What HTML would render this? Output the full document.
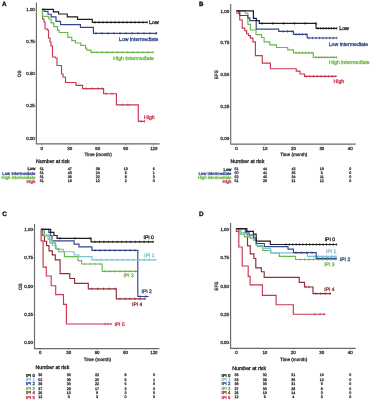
<!DOCTYPE html>
<html><head><meta charset="utf-8"><style>
html,body{margin:0;padding:0;background:#fff;width:371px;height:400px;overflow:hidden}
svg{display:block;will-change:transform;filter:blur(0.3px)}
text{font-family:"Liberation Sans", sans-serif;text-rendering:geometricPrecision}
</style></head><body>
<svg width="371" height="400" viewBox="0 0 371 400">
<rect width="371" height="400" fill="#fff"/>
<text x="2.00" y="6.20" font-size="6.2" fill="#111" stroke="#111" stroke-width="0.3" text-anchor="start" font-weight="bold" >A</text>
<path d="M36.4 2.5 V143.9 H159.7" stroke="#6a6a6a" stroke-width="1.15" fill="none" />
<path d="M35.1 138.00 H36.4" stroke="#6a6a6a" stroke-width="0.6" fill="none" />
<text x="34.80" y="139.54" font-size="4.4" fill="#333" stroke="#333" stroke-width="0.3" text-anchor="end" font-weight="normal" >0.00</text>
<path d="M35.1 105.90 H36.4" stroke="#6a6a6a" stroke-width="0.6" fill="none" />
<text x="34.80" y="107.44" font-size="4.4" fill="#333" stroke="#333" stroke-width="0.3" text-anchor="end" font-weight="normal" >0.25</text>
<path d="M35.1 73.80 H36.4" stroke="#6a6a6a" stroke-width="0.6" fill="none" />
<text x="34.80" y="75.34" font-size="4.4" fill="#333" stroke="#333" stroke-width="0.3" text-anchor="end" font-weight="normal" >0.50</text>
<path d="M35.1 41.70 H36.4" stroke="#6a6a6a" stroke-width="0.6" fill="none" />
<text x="34.80" y="43.24" font-size="4.4" fill="#333" stroke="#333" stroke-width="0.3" text-anchor="end" font-weight="normal" >0.75</text>
<path d="M35.1 9.60 H36.4" stroke="#6a6a6a" stroke-width="0.6" fill="none" />
<text x="34.80" y="11.14" font-size="4.4" fill="#333" stroke="#333" stroke-width="0.3" text-anchor="end" font-weight="normal" >1.00</text>
<path d="M41.80 143.9 V145.20000000000002" stroke="#6a6a6a" stroke-width="0.6" fill="none" />
<text x="41.80" y="149.54" font-size="4.4" fill="#333" stroke="#333" stroke-width="0.3" text-anchor="middle" font-weight="normal" >0</text>
<path d="M69.80 143.9 V145.20000000000002" stroke="#6a6a6a" stroke-width="0.6" fill="none" />
<text x="69.80" y="149.54" font-size="4.4" fill="#333" stroke="#333" stroke-width="0.3" text-anchor="middle" font-weight="normal" >30</text>
<path d="M97.80 143.9 V145.20000000000002" stroke="#6a6a6a" stroke-width="0.6" fill="none" />
<text x="97.80" y="149.54" font-size="4.4" fill="#333" stroke="#333" stroke-width="0.3" text-anchor="middle" font-weight="normal" >60</text>
<path d="M125.80 143.9 V145.20000000000002" stroke="#6a6a6a" stroke-width="0.6" fill="none" />
<text x="125.80" y="149.54" font-size="4.4" fill="#333" stroke="#333" stroke-width="0.3" text-anchor="middle" font-weight="normal" >90</text>
<path d="M153.80 143.9 V145.20000000000002" stroke="#6a6a6a" stroke-width="0.6" fill="none" />
<text x="153.80" y="149.54" font-size="4.4" fill="#333" stroke="#333" stroke-width="0.3" text-anchor="middle" font-weight="normal" >120</text>
<text x="98.10" y="156.11" font-size="4.6" fill="#333" stroke="#333" stroke-width="0.3" text-anchor="middle" font-weight="normal" >Time (month)</text>
<text x="20.00" y="73.80" font-size="4.7" fill="#333" stroke="#333" stroke-width="0.3" text-anchor="middle" font-weight="normal" transform="rotate(-90 20.0 73.8)" dy="1.5">OS</text>
<text x="35.90" y="162.62" font-size="5.2" fill="#222" stroke="#222" stroke-width="0.3" text-anchor="start" font-weight="normal" >Number at risk</text>
<text x="35.30" y="170.41" font-size="4.3" fill="#1c1c1c" stroke="#1c1c1c" stroke-width="0.3" text-anchor="end" font-weight="normal" >Low</text>
<text x="41.80" y="170.20" font-size="3.6" fill="#333" stroke="#333" stroke-width="0.3" text-anchor="middle" font-weight="normal" >51</text>
<text x="69.80" y="170.20" font-size="3.6" fill="#333" stroke="#333" stroke-width="0.3" text-anchor="middle" font-weight="normal" >47</text>
<text x="97.80" y="170.20" font-size="3.6" fill="#333" stroke="#333" stroke-width="0.3" text-anchor="middle" font-weight="normal" >38</text>
<text x="125.80" y="170.20" font-size="3.6" fill="#333" stroke="#333" stroke-width="0.3" text-anchor="middle" font-weight="normal" >13</text>
<text x="153.80" y="170.20" font-size="3.6" fill="#333" stroke="#333" stroke-width="0.3" text-anchor="middle" font-weight="normal" >6</text>
<text x="35.30" y="174.50" font-size="4.3" fill="#34468f" stroke="#34468f" stroke-width="0.3" text-anchor="end" font-weight="normal" >Low Intermediate</text>
<text x="41.80" y="174.30" font-size="3.6" fill="#333" stroke="#333" stroke-width="0.3" text-anchor="middle" font-weight="normal" >51</text>
<text x="69.80" y="174.30" font-size="3.6" fill="#333" stroke="#333" stroke-width="0.3" text-anchor="middle" font-weight="normal" >43</text>
<text x="97.80" y="174.30" font-size="3.6" fill="#333" stroke="#333" stroke-width="0.3" text-anchor="middle" font-weight="normal" >24</text>
<text x="125.80" y="174.30" font-size="3.6" fill="#333" stroke="#333" stroke-width="0.3" text-anchor="middle" font-weight="normal" >6</text>
<text x="153.80" y="174.30" font-size="3.6" fill="#333" stroke="#333" stroke-width="0.3" text-anchor="middle" font-weight="normal" >1</text>
<text x="35.30" y="178.50" font-size="4.3" fill="#6cb84a" stroke="#6cb84a" stroke-width="0.3" text-anchor="end" font-weight="normal" >High intermediate</text>
<text x="41.80" y="178.30" font-size="3.6" fill="#333" stroke="#333" stroke-width="0.3" text-anchor="middle" font-weight="normal" >51</text>
<text x="69.80" y="178.30" font-size="3.6" fill="#333" stroke="#333" stroke-width="0.3" text-anchor="middle" font-weight="normal" >36</text>
<text x="97.80" y="178.30" font-size="3.6" fill="#333" stroke="#333" stroke-width="0.3" text-anchor="middle" font-weight="normal" >22</text>
<text x="125.80" y="178.30" font-size="3.6" fill="#333" stroke="#333" stroke-width="0.3" text-anchor="middle" font-weight="normal" >8</text>
<text x="153.80" y="178.30" font-size="3.6" fill="#333" stroke="#333" stroke-width="0.3" text-anchor="middle" font-weight="normal" >3</text>
<text x="35.30" y="182.50" font-size="4.3" fill="#c8374f" stroke="#c8374f" stroke-width="0.3" text-anchor="end" font-weight="normal" >High</text>
<text x="41.80" y="182.30" font-size="3.6" fill="#333" stroke="#333" stroke-width="0.3" text-anchor="middle" font-weight="normal" >51</text>
<text x="69.80" y="182.30" font-size="3.6" fill="#333" stroke="#333" stroke-width="0.3" text-anchor="middle" font-weight="normal" >19</text>
<text x="97.80" y="182.30" font-size="3.6" fill="#333" stroke="#333" stroke-width="0.3" text-anchor="middle" font-weight="normal" >12</text>
<text x="125.80" y="182.30" font-size="3.6" fill="#333" stroke="#333" stroke-width="0.3" text-anchor="middle" font-weight="normal" >2</text>
<text x="153.80" y="182.30" font-size="3.6" fill="#333" stroke="#333" stroke-width="0.3" text-anchor="middle" font-weight="normal" >0</text>
<path d="M41.9 9.4 H42.5 V19 H44 V22 H45 V29 H47.5 V30 H48.5 V38 H50 V42 H51 V46 H52.5 V57 H55.5 V58 H57 V65.5 H61.5 V74 H63 V77 H65.5 V82.5 H76 V85.3 H82.6 V88.6 H103.6 V93.7 H116.4 V104.8 H138.3 V121.3 H144.8" stroke="#c8374f" stroke-width="1.15" fill="none" stroke-linejoin="miter" stroke-linecap="butt"/>
<path d="M41.9 9.4 H42.5 V16.3 H48.9 V19 H51.1 V22.8 H53.8 V26.6 H57.6 V30.3 H59.2 V32.5 H67.8 V37.3 H71.8 V40.6 H75.5 V43 H80.8 V45.4 H85.5 V48.1 H86.8 V50.1 H90.9 V52.3 H153.3" stroke="#6cb84a" stroke-width="1.15" fill="none" stroke-linejoin="miter" stroke-linecap="butt"/>
<path d="M41.9 9.4 H44.2 V11.4 H48 V14.2 H51.2 V16.8 H56 V21.4 H60.5 V24.6 H80.4 V27.4 H93.4 V33.4 H156.7" stroke="#34468f" stroke-width="1.15" fill="none" stroke-linejoin="miter" stroke-linecap="butt"/>
<path d="M41.9 9.4 H53.3 V11.8 H58.6 V14 H67.3 V16.9 H77.6 V19.4 H92.3 V22.4 H147.4" stroke="#1c1c1c" stroke-width="1.15" fill="none" stroke-linejoin="miter" stroke-linecap="butt"/>
<path d="M95.00 21.15 V23.45 M99.00 21.15 V23.45 M103.00 21.15 V23.45 M107.00 21.15 V23.45 M111.00 21.15 V23.45 M115.00 21.15 V23.45 M119.00 21.15 V23.45 M123.00 21.15 V23.45 M127.00 21.15 V23.45 M131.00 21.15 V23.45 M135.00 21.15 V23.45 M139.00 21.15 V23.45 M143.00 21.15 V23.45 M147.00 21.15 V23.45" stroke="#1c1c1c" stroke-width="0.85" fill="none" />
<path d="M96.00 32.15 V34.45 M102.00 32.15 V34.45 M108.00 32.15 V34.45 M114.00 32.15 V34.45 M120.00 32.15 V34.45 M126.00 32.15 V34.45 M132.00 32.15 V34.45 M138.00 32.15 V34.45 M144.00 32.15 V34.45 M150.00 32.15 V34.45 M156.00 32.15 V34.45 M156.70 32.15 V34.45" stroke="#34468f" stroke-width="0.85" fill="none" />
<path d="M92.00 51.15 V53.45 M97.08 51.15 V53.45 M102.17 51.15 V53.45 M107.25 51.15 V53.45 M112.33 51.15 V53.45 M117.42 51.15 V53.45 M122.50 51.15 V53.45 M127.58 51.15 V53.45 M132.67 51.15 V53.45 M137.75 51.15 V53.45 M142.83 51.15 V53.45 M147.92 51.15 V53.45 M153.00 51.15 V53.45" stroke="#6cb84a" stroke-width="0.85" fill="none" />
<path d="M86.00 87.45 V89.75 M92.00 87.45 V89.75 M98.00 87.45 V89.75 M102.00 87.45 V89.75" stroke="#c8374f" stroke-width="0.85" fill="none" />
<path d="M106.00 92.55 V94.85 M112.00 92.55 V94.85" stroke="#c8374f" stroke-width="0.85" fill="none" />
<path d="M122.00 103.65 V105.95 M128.00 103.65 V105.95" stroke="#c8374f" stroke-width="0.85" fill="none" />
<path d="M141.00 120.15 V122.45 M144.50 120.15 V122.45" stroke="#c8374f" stroke-width="0.85" fill="none" />
<text x="149.00" y="23.86" font-size="5.3" fill="#1c1c1c" stroke="#1c1c1c" stroke-width="0.3" text-anchor="start" font-weight="normal" >Low</text>
<text x="119.00" y="40.82" font-size="5.2" fill="#34468f" stroke="#34468f" stroke-width="0.3" text-anchor="start" font-weight="normal" >Low intermediate</text>
<text x="113.30" y="59.92" font-size="5.2" fill="#6cb84a" stroke="#6cb84a" stroke-width="0.3" text-anchor="start" font-weight="normal" >High intermediate</text>
<text x="144.00" y="119.02" font-size="5.2" fill="#c8374f" stroke="#c8374f" stroke-width="0.3" text-anchor="start" font-weight="normal" >High</text>
<text x="199.00" y="6.20" font-size="6.2" fill="#111" stroke="#111" stroke-width="0.3" text-anchor="start" font-weight="bold" >B</text>
<path d="M230.7 4.0 V144.1 H355.7" stroke="#6a6a6a" stroke-width="1.15" fill="none" />
<path d="M229.39999999999998 138.30 H230.7" stroke="#6a6a6a" stroke-width="0.6" fill="none" />
<text x="229.10" y="139.84" font-size="4.4" fill="#333" stroke="#333" stroke-width="0.3" text-anchor="end" font-weight="normal" >0.00</text>
<path d="M229.39999999999998 106.50 H230.7" stroke="#6a6a6a" stroke-width="0.6" fill="none" />
<text x="229.10" y="108.04" font-size="4.4" fill="#333" stroke="#333" stroke-width="0.3" text-anchor="end" font-weight="normal" >0.25</text>
<path d="M229.39999999999998 74.70 H230.7" stroke="#6a6a6a" stroke-width="0.6" fill="none" />
<text x="229.10" y="76.24" font-size="4.4" fill="#333" stroke="#333" stroke-width="0.3" text-anchor="end" font-weight="normal" >0.50</text>
<path d="M229.39999999999998 42.90 H230.7" stroke="#6a6a6a" stroke-width="0.6" fill="none" />
<text x="229.10" y="44.44" font-size="4.4" fill="#333" stroke="#333" stroke-width="0.3" text-anchor="end" font-weight="normal" >0.75</text>
<path d="M229.39999999999998 11.10 H230.7" stroke="#6a6a6a" stroke-width="0.6" fill="none" />
<text x="229.10" y="12.64" font-size="4.4" fill="#333" stroke="#333" stroke-width="0.3" text-anchor="end" font-weight="normal" >1.00</text>
<path d="M236.50 144.1 V145.4" stroke="#6a6a6a" stroke-width="0.6" fill="none" />
<text x="236.50" y="149.74" font-size="4.4" fill="#333" stroke="#333" stroke-width="0.3" text-anchor="middle" font-weight="normal" >0</text>
<path d="M264.95 144.1 V145.4" stroke="#6a6a6a" stroke-width="0.6" fill="none" />
<text x="264.95" y="149.74" font-size="4.4" fill="#333" stroke="#333" stroke-width="0.3" text-anchor="middle" font-weight="normal" >10</text>
<path d="M293.40 144.1 V145.4" stroke="#6a6a6a" stroke-width="0.6" fill="none" />
<text x="293.40" y="149.74" font-size="4.4" fill="#333" stroke="#333" stroke-width="0.3" text-anchor="middle" font-weight="normal" >20</text>
<path d="M321.85 144.1 V145.4" stroke="#6a6a6a" stroke-width="0.6" fill="none" />
<text x="321.85" y="149.74" font-size="4.4" fill="#333" stroke="#333" stroke-width="0.3" text-anchor="middle" font-weight="normal" >30</text>
<path d="M350.30 144.1 V145.4" stroke="#6a6a6a" stroke-width="0.6" fill="none" />
<text x="350.30" y="149.74" font-size="4.4" fill="#333" stroke="#333" stroke-width="0.3" text-anchor="middle" font-weight="normal" >40</text>
<text x="293.70" y="155.81" font-size="4.6" fill="#333" stroke="#333" stroke-width="0.3" text-anchor="middle" font-weight="normal" >Time (month)</text>
<text x="216.70" y="74.70" font-size="4.7" fill="#333" stroke="#333" stroke-width="0.3" text-anchor="middle" font-weight="normal" transform="rotate(-90 216.7 74.7)" dy="1.5">EFS</text>
<text x="230.50" y="162.72" font-size="5.2" fill="#222" stroke="#222" stroke-width="0.3" text-anchor="start" font-weight="normal" >Number at risk</text>
<text x="231.40" y="170.50" font-size="4.3" fill="#1c1c1c" stroke="#1c1c1c" stroke-width="0.3" text-anchor="end" font-weight="normal" >Low</text>
<text x="236.50" y="170.30" font-size="3.6" fill="#333" stroke="#333" stroke-width="0.3" text-anchor="middle" font-weight="normal" >51</text>
<text x="264.95" y="170.30" font-size="3.6" fill="#333" stroke="#333" stroke-width="0.3" text-anchor="middle" font-weight="normal" >44</text>
<text x="293.40" y="170.30" font-size="3.6" fill="#333" stroke="#333" stroke-width="0.3" text-anchor="middle" font-weight="normal" >42</text>
<text x="321.85" y="170.30" font-size="3.6" fill="#333" stroke="#333" stroke-width="0.3" text-anchor="middle" font-weight="normal" >19</text>
<text x="350.30" y="170.30" font-size="3.6" fill="#333" stroke="#333" stroke-width="0.3" text-anchor="middle" font-weight="normal" >0</text>
<text x="231.40" y="174.50" font-size="4.3" fill="#34468f" stroke="#34468f" stroke-width="0.3" text-anchor="end" font-weight="normal" >Low Intermediate</text>
<text x="236.50" y="174.30" font-size="3.6" fill="#333" stroke="#333" stroke-width="0.3" text-anchor="middle" font-weight="normal" >50</text>
<text x="264.95" y="174.30" font-size="3.6" fill="#333" stroke="#333" stroke-width="0.3" text-anchor="middle" font-weight="normal" >41</text>
<text x="293.40" y="174.30" font-size="3.6" fill="#333" stroke="#333" stroke-width="0.3" text-anchor="middle" font-weight="normal" >35</text>
<text x="321.85" y="174.30" font-size="3.6" fill="#333" stroke="#333" stroke-width="0.3" text-anchor="middle" font-weight="normal" >6</text>
<text x="350.30" y="174.30" font-size="3.6" fill="#333" stroke="#333" stroke-width="0.3" text-anchor="middle" font-weight="normal" >0</text>
<text x="231.40" y="178.60" font-size="4.3" fill="#6cb84a" stroke="#6cb84a" stroke-width="0.3" text-anchor="end" font-weight="normal" >High intermediate</text>
<text x="236.50" y="178.40" font-size="3.6" fill="#333" stroke="#333" stroke-width="0.3" text-anchor="middle" font-weight="normal" >52</text>
<text x="264.95" y="178.40" font-size="3.6" fill="#333" stroke="#333" stroke-width="0.3" text-anchor="middle" font-weight="normal" >45</text>
<text x="293.40" y="178.40" font-size="3.6" fill="#333" stroke="#333" stroke-width="0.3" text-anchor="middle" font-weight="normal" >34</text>
<text x="321.85" y="178.40" font-size="3.6" fill="#333" stroke="#333" stroke-width="0.3" text-anchor="middle" font-weight="normal" >11</text>
<text x="350.30" y="178.40" font-size="3.6" fill="#333" stroke="#333" stroke-width="0.3" text-anchor="middle" font-weight="normal" >0</text>
<text x="231.40" y="182.60" font-size="4.3" fill="#c8374f" stroke="#c8374f" stroke-width="0.3" text-anchor="end" font-weight="normal" >High</text>
<text x="236.50" y="182.40" font-size="3.6" fill="#333" stroke="#333" stroke-width="0.3" text-anchor="middle" font-weight="normal" >51</text>
<text x="264.95" y="182.40" font-size="3.6" fill="#333" stroke="#333" stroke-width="0.3" text-anchor="middle" font-weight="normal" >29</text>
<text x="293.40" y="182.40" font-size="3.6" fill="#333" stroke="#333" stroke-width="0.3" text-anchor="middle" font-weight="normal" >21</text>
<text x="321.85" y="182.40" font-size="3.6" fill="#333" stroke="#333" stroke-width="0.3" text-anchor="middle" font-weight="normal" >12</text>
<text x="350.30" y="182.40" font-size="3.6" fill="#333" stroke="#333" stroke-width="0.3" text-anchor="middle" font-weight="normal" >0</text>
<path d="M236.4 10.9 H238.8 V13.5 H239.75 V20 H242.25 V28.1 H244.75 V30.6 H246.6 V33.75 H248.5 V35.6 H250.4 V38.1 H252.9 V41.9 H255.4 V55.6 H262.25 V63.1 H270.4 V68.7 H296.2 V71.1 H300 V74 H304.5 V76.3 H336.2" stroke="#c8374f" stroke-width="1.15" fill="none" stroke-linejoin="miter" stroke-linecap="butt"/>
<path d="M236.4 10.9 H245.3 V13.2 H247.9 V24.4 H250.4 V30 H256 V34.6 H261.6 V37.5 H264.1 V41.9 H269.8 V44.8 H276.4 V47.5 H287.7 V49.8 H293.4 V52.8 H313.3 V57.3 H336.8" stroke="#6cb84a" stroke-width="1.15" fill="none" stroke-linejoin="miter" stroke-linecap="butt"/>
<path d="M236.4 10.9 H239.7 V15.5 H247.8 V17.9 H249.8 V20.6 H256.2 V29.1 H278.7 V31.4 H293.5 V34.4 H307.2 V38.0 H336.8" stroke="#34468f" stroke-width="1.15" fill="none" stroke-linejoin="miter" stroke-linecap="butt"/>
<path d="M236.4 10.9 H253.4 V18.3 H256.3 V20.6 H259.3 V23.4 H316.1 V28.4 H336.8" stroke="#1c1c1c" stroke-width="1.15" fill="none" stroke-linejoin="miter" stroke-linecap="butt"/>
<path d="M236.6 11.1 h2 v2.2 h-2 z" stroke="#c8374f" stroke-width="0.8" fill="none" />
<path d="M262.00 22.25 V24.55 M272.80 22.25 V24.55 M283.60 22.25 V24.55 M294.40 22.25 V24.55 M305.20 22.25 V24.55 M316.00 22.25 V24.55" stroke="#1c1c1c" stroke-width="0.85" fill="none" />
<path d="M318.00 27.25 V29.55 M320.69 27.25 V29.55 M323.37 27.25 V29.55 M326.06 27.25 V29.55 M328.74 27.25 V29.55 M331.43 27.25 V29.55 M334.11 27.25 V29.55 M336.80 27.25 V29.55" stroke="#1c1c1c" stroke-width="0.85" fill="none" />
<path d="M283.00 30.25 V32.55 M287.50 30.25 V32.55 M292.00 30.25 V32.55" stroke="#34468f" stroke-width="0.85" fill="none" />
<path d="M296.00 33.25 V35.55 M299.33 33.25 V35.55 M302.67 33.25 V35.55 M306.00 33.25 V35.55" stroke="#34468f" stroke-width="0.85" fill="none" />
<path d="M309.00 36.85 V39.15 M312.48 36.85 V39.15 M315.95 36.85 V39.15 M319.43 36.85 V39.15 M322.90 36.85 V39.15 M326.38 36.85 V39.15 M329.85 36.85 V39.15 M333.32 36.85 V39.15 M336.80 36.85 V39.15" stroke="#34468f" stroke-width="0.85" fill="none" />
<path d="M296.00 51.65 V53.95 M299.20 51.65 V53.95 M302.40 51.65 V53.95 M305.60 51.65 V53.95 M308.80 51.65 V53.95 M312.00 51.65 V53.95" stroke="#6cb84a" stroke-width="0.85" fill="none" />
<path d="M316.00 56.15 V58.45 M318.97 56.15 V58.45 M321.94 56.15 V58.45 M324.91 56.15 V58.45 M327.89 56.15 V58.45 M330.86 56.15 V58.45 M333.83 56.15 V58.45 M336.80 56.15 V58.45" stroke="#6cb84a" stroke-width="0.85" fill="none" />
<path d="M306.00 75.15 V77.45 M309.75 75.15 V77.45 M313.50 75.15 V77.45 M317.25 75.15 V77.45 M321.00 75.15 V77.45 M324.75 75.15 V77.45 M328.50 75.15 V77.45 M332.25 75.15 V77.45 M336.00 75.15 V77.45" stroke="#c8374f" stroke-width="0.85" fill="none" />
<text x="339.20" y="29.75" font-size="5.3" fill="#1c1c1c" stroke="#1c1c1c" stroke-width="0.3" text-anchor="start" font-weight="normal" >Low</text>
<text x="328.70" y="46.32" font-size="5.2" fill="#34468f" stroke="#34468f" stroke-width="0.3" text-anchor="start" font-weight="normal" >Low intermediate</text>
<text x="329.10" y="64.32" font-size="5.2" fill="#6cb84a" stroke="#6cb84a" stroke-width="0.3" text-anchor="start" font-weight="normal" >High intermediate</text>
<text x="333.50" y="83.22" font-size="5.2" fill="#c8374f" stroke="#c8374f" stroke-width="0.3" text-anchor="start" font-weight="normal" >High</text>
<text x="2.30" y="216.10" font-size="6.4" fill="#111" stroke="#111" stroke-width="0.3" text-anchor="start" font-weight="bold" >C</text>
<path d="M34.5 224.0 V348.6 H159.3" stroke="#6a6a6a" stroke-width="1.15" fill="none" />
<path d="M33.2 342.70 H34.5" stroke="#6a6a6a" stroke-width="0.6" fill="none" />
<text x="32.90" y="344.24" font-size="4.4" fill="#333" stroke="#333" stroke-width="0.3" text-anchor="end" font-weight="normal" >0.00</text>
<path d="M33.2 314.40 H34.5" stroke="#6a6a6a" stroke-width="0.6" fill="none" />
<text x="32.90" y="315.94" font-size="4.4" fill="#333" stroke="#333" stroke-width="0.3" text-anchor="end" font-weight="normal" >0.25</text>
<path d="M33.2 286.10 H34.5" stroke="#6a6a6a" stroke-width="0.6" fill="none" />
<text x="32.90" y="287.64" font-size="4.4" fill="#333" stroke="#333" stroke-width="0.3" text-anchor="end" font-weight="normal" >0.50</text>
<path d="M33.2 257.80 H34.5" stroke="#6a6a6a" stroke-width="0.6" fill="none" />
<text x="32.90" y="259.34" font-size="4.4" fill="#333" stroke="#333" stroke-width="0.3" text-anchor="end" font-weight="normal" >0.75</text>
<path d="M33.2 229.50 H34.5" stroke="#6a6a6a" stroke-width="0.6" fill="none" />
<text x="32.90" y="231.04" font-size="4.4" fill="#333" stroke="#333" stroke-width="0.3" text-anchor="end" font-weight="normal" >1.00</text>
<path d="M40.30 348.6 V349.90000000000003" stroke="#6a6a6a" stroke-width="0.6" fill="none" />
<text x="40.30" y="354.24" font-size="4.4" fill="#333" stroke="#333" stroke-width="0.3" text-anchor="middle" font-weight="normal" >0</text>
<path d="M68.70 348.6 V349.90000000000003" stroke="#6a6a6a" stroke-width="0.6" fill="none" />
<text x="68.70" y="354.24" font-size="4.4" fill="#333" stroke="#333" stroke-width="0.3" text-anchor="middle" font-weight="normal" >30</text>
<path d="M97.10 348.6 V349.90000000000003" stroke="#6a6a6a" stroke-width="0.6" fill="none" />
<text x="97.10" y="354.24" font-size="4.4" fill="#333" stroke="#333" stroke-width="0.3" text-anchor="middle" font-weight="normal" >60</text>
<path d="M125.50 348.6 V349.90000000000003" stroke="#6a6a6a" stroke-width="0.6" fill="none" />
<text x="125.50" y="354.24" font-size="4.4" fill="#333" stroke="#333" stroke-width="0.3" text-anchor="middle" font-weight="normal" >90</text>
<path d="M153.90 348.6 V349.90000000000003" stroke="#6a6a6a" stroke-width="0.6" fill="none" />
<text x="153.90" y="354.24" font-size="4.4" fill="#333" stroke="#333" stroke-width="0.3" text-anchor="middle" font-weight="normal" >120</text>
<text x="97.40" y="360.61" font-size="4.6" fill="#333" stroke="#333" stroke-width="0.3" text-anchor="middle" font-weight="normal" >Time (month)</text>
<text x="21.00" y="286.70" font-size="4.7" fill="#333" stroke="#333" stroke-width="0.3" text-anchor="middle" font-weight="normal" transform="rotate(-90 21.0 286.70000000000005)" dy="1.5">OS</text>
<text x="35.50" y="369.12" font-size="5.2" fill="#222" stroke="#222" stroke-width="0.3" text-anchor="start" font-weight="normal" >Number at risk</text>
<text x="34.80" y="376.61" font-size="4.3" fill="#1c1c1c" stroke="#1c1c1c" stroke-width="0.3" text-anchor="end" font-weight="normal" >IPI 0</text>
<text x="40.30" y="376.40" font-size="3.6" fill="#333" stroke="#333" stroke-width="0.3" text-anchor="middle" font-weight="normal" >36</text>
<text x="68.70" y="376.40" font-size="3.6" fill="#333" stroke="#333" stroke-width="0.3" text-anchor="middle" font-weight="normal" >33</text>
<text x="97.10" y="376.40" font-size="3.6" fill="#333" stroke="#333" stroke-width="0.3" text-anchor="middle" font-weight="normal" >22</text>
<text x="125.50" y="376.40" font-size="3.6" fill="#333" stroke="#333" stroke-width="0.3" text-anchor="middle" font-weight="normal" >8</text>
<text x="153.90" y="376.40" font-size="3.6" fill="#333" stroke="#333" stroke-width="0.3" text-anchor="middle" font-weight="normal" >0</text>
<text x="34.80" y="381.00" font-size="4.3" fill="#7cc3d6" stroke="#7cc3d6" stroke-width="0.3" text-anchor="end" font-weight="normal" >IPI 1</text>
<text x="40.30" y="380.80" font-size="3.6" fill="#333" stroke="#333" stroke-width="0.3" text-anchor="middle" font-weight="normal" >52</text>
<text x="68.70" y="380.80" font-size="3.6" fill="#333" stroke="#333" stroke-width="0.3" text-anchor="middle" font-weight="normal" >39</text>
<text x="97.10" y="380.80" font-size="3.6" fill="#333" stroke="#333" stroke-width="0.3" text-anchor="middle" font-weight="normal" >20</text>
<text x="125.50" y="380.80" font-size="3.6" fill="#333" stroke="#333" stroke-width="0.3" text-anchor="middle" font-weight="normal" >6</text>
<text x="153.90" y="380.80" font-size="3.6" fill="#333" stroke="#333" stroke-width="0.3" text-anchor="middle" font-weight="normal" >1</text>
<text x="34.80" y="385.40" font-size="4.3" fill="#34468f" stroke="#34468f" stroke-width="0.3" text-anchor="end" font-weight="normal" >IPI 2</text>
<text x="40.30" y="385.20" font-size="3.6" fill="#333" stroke="#333" stroke-width="0.3" text-anchor="middle" font-weight="normal" >38</text>
<text x="68.70" y="385.20" font-size="3.6" fill="#333" stroke="#333" stroke-width="0.3" text-anchor="middle" font-weight="normal" >33</text>
<text x="97.10" y="385.20" font-size="3.6" fill="#333" stroke="#333" stroke-width="0.3" text-anchor="middle" font-weight="normal" >22</text>
<text x="125.50" y="385.20" font-size="3.6" fill="#333" stroke="#333" stroke-width="0.3" text-anchor="middle" font-weight="normal" >5</text>
<text x="153.90" y="385.20" font-size="3.6" fill="#333" stroke="#333" stroke-width="0.3" text-anchor="middle" font-weight="normal" >0</text>
<text x="34.80" y="389.70" font-size="4.3" fill="#6cb84a" stroke="#6cb84a" stroke-width="0.3" text-anchor="end" font-weight="normal" >IPI 3</text>
<text x="40.30" y="389.50" font-size="3.6" fill="#333" stroke="#333" stroke-width="0.3" text-anchor="middle" font-weight="normal" >37</text>
<text x="68.70" y="389.50" font-size="3.6" fill="#333" stroke="#333" stroke-width="0.3" text-anchor="middle" font-weight="normal" >28</text>
<text x="97.10" y="389.50" font-size="3.6" fill="#333" stroke="#333" stroke-width="0.3" text-anchor="middle" font-weight="normal" >17</text>
<text x="125.50" y="389.50" font-size="3.6" fill="#333" stroke="#333" stroke-width="0.3" text-anchor="middle" font-weight="normal" >3</text>
<text x="153.90" y="389.50" font-size="3.6" fill="#333" stroke="#333" stroke-width="0.3" text-anchor="middle" font-weight="normal" >0</text>
<text x="34.80" y="394.11" font-size="4.3" fill="#8e2e36" stroke="#8e2e36" stroke-width="0.3" text-anchor="end" font-weight="normal" >IPI 4</text>
<text x="40.30" y="393.90" font-size="3.6" fill="#333" stroke="#333" stroke-width="0.3" text-anchor="middle" font-weight="normal" >26</text>
<text x="68.70" y="393.90" font-size="3.6" fill="#333" stroke="#333" stroke-width="0.3" text-anchor="middle" font-weight="normal" >15</text>
<text x="97.10" y="393.90" font-size="3.6" fill="#333" stroke="#333" stroke-width="0.3" text-anchor="middle" font-weight="normal" >9</text>
<text x="125.50" y="393.90" font-size="3.6" fill="#333" stroke="#333" stroke-width="0.3" text-anchor="middle" font-weight="normal" >3</text>
<text x="153.90" y="393.90" font-size="3.6" fill="#333" stroke="#333" stroke-width="0.3" text-anchor="middle" font-weight="normal" >0</text>
<text x="34.80" y="398.50" font-size="4.3" fill="#c8374f" stroke="#c8374f" stroke-width="0.3" text-anchor="end" font-weight="normal" >IPI 5</text>
<text x="40.30" y="398.30" font-size="3.6" fill="#333" stroke="#333" stroke-width="0.3" text-anchor="middle" font-weight="normal" >12</text>
<text x="68.70" y="398.30" font-size="3.6" fill="#333" stroke="#333" stroke-width="0.3" text-anchor="middle" font-weight="normal" >3</text>
<text x="97.10" y="398.30" font-size="3.6" fill="#333" stroke="#333" stroke-width="0.3" text-anchor="middle" font-weight="normal" >3</text>
<text x="125.50" y="398.30" font-size="3.6" fill="#333" stroke="#333" stroke-width="0.3" text-anchor="middle" font-weight="normal" >0</text>
<text x="153.90" y="398.30" font-size="3.6" fill="#333" stroke="#333" stroke-width="0.3" text-anchor="middle" font-weight="normal" >0</text>
<path d="M41.1 229.3 V240.9 H43.1 V267.1 H46.3 V276 H51.2 V285.7 H55.7 V294.6 H63.5 V304.3 H66.4 V324 H111.6" stroke="#c8374f" stroke-width="1.15" fill="none" stroke-linejoin="miter" stroke-linecap="butt"/>
<path d="M41.1 229.3 H42.4 V235.5 H44.5 V241.2 H46.6 V245.6 H49 V250.9 H52.3 V254.9 H55.3 V259.8 H60.1 V273.6 H69.8 V278.5 H74.6 V283.3 H88.3 V288.8 H116.3 V298.8 H145.3" stroke="#8e2e36" stroke-width="1.15" fill="none" stroke-linejoin="miter" stroke-linecap="butt"/>
<path d="M41.1 229.3 H44.4 V236 H49.9 V242.8 H55.5 V248.5 H58.8 V251.7 H64.4 V256.6 H78 V260.6 H81.6 V264 H102.2 V271.3 H137.8" stroke="#6cb84a" stroke-width="1.15" fill="none" stroke-linejoin="miter" stroke-linecap="butt"/>
<path d="M41.1 229.3 H48.8 V232.3 H50.3 V235.5 H52 V240.8 H74.1 V244.1 H79 V246.8 H91.9 V250.4 H137.8 V296.5 H148.6" stroke="#34468f" stroke-width="1.15" fill="none" stroke-linejoin="miter" stroke-linecap="butt"/>
<path d="M41.1 229.3 H43.1 V234.7 H48.2 V239.6 H52.3 V245.2 H56.3 V249.3 H63.6 V251.7 H74.1 V255 H79 V256.6 H92 V259.8 H156.2" stroke="#7cc3d6" stroke-width="1.15" fill="none" stroke-linejoin="miter" stroke-linecap="butt"/>
<path d="M41.1 229.3 H50.7 V232.3 H53.9 V235.5 H57.1 V238.3 H91.1 V241.9 H153.6" stroke="#1c1c1c" stroke-width="1.15" fill="none" stroke-linejoin="miter" stroke-linecap="butt"/>
<path d="M95.00 240.75 V243.05 M99.46 240.75 V243.05 M103.92 240.75 V243.05 M108.38 240.75 V243.05 M112.85 240.75 V243.05 M117.31 240.75 V243.05 M121.77 240.75 V243.05 M126.23 240.75 V243.05 M130.69 240.75 V243.05 M135.15 240.75 V243.05 M139.62 240.75 V243.05 M144.08 240.75 V243.05 M148.54 240.75 V243.05 M153.00 240.75 V243.05" stroke="#1c1c1c" stroke-width="0.85" fill="none" />
<path d="M60.00 237.15 V239.45 M75.00 237.15 V239.45 M90.00 237.15 V239.45" stroke="#1c1c1c" stroke-width="0.85" fill="none" />
<path d="M95.00 249.25 V251.55 M100.00 249.25 V251.55 M105.00 249.25 V251.55 M110.00 249.25 V251.55 M115.00 249.25 V251.55 M120.00 249.25 V251.55 M125.00 249.25 V251.55 M130.00 249.25 V251.55 M135.00 249.25 V251.55" stroke="#34468f" stroke-width="0.85" fill="none" />
<path d="M140.00 295.35 V297.65 M146.00 295.35 V297.65" stroke="#34468f" stroke-width="0.85" fill="none" />
<path d="M96.00 258.65 V260.95 M101.36 258.65 V260.95 M106.73 258.65 V260.95 M112.09 258.65 V260.95 M117.45 258.65 V260.95 M122.82 258.65 V260.95 M128.18 258.65 V260.95 M133.55 258.65 V260.95 M138.91 258.65 V260.95 M144.27 258.65 V260.95 M149.64 258.65 V260.95 M155.00 258.65 V260.95" stroke="#7cc3d6" stroke-width="0.85" fill="none" />
<path d="M85.00 262.85 V265.15 M90.00 262.85 V265.15 M95.00 262.85 V265.15 M100.00 262.85 V265.15" stroke="#6cb84a" stroke-width="0.85" fill="none" />
<path d="M105.00 270.15 V272.45 M110.00 270.15 V272.45 M115.00 270.15 V272.45 M120.00 270.15 V272.45 M125.00 270.15 V272.45 M130.00 270.15 V272.45 M135.00 270.15 V272.45" stroke="#6cb84a" stroke-width="0.85" fill="none" />
<path d="M92.00 287.65 V289.95 M97.75 287.65 V289.95 M103.50 287.65 V289.95 M109.25 287.65 V289.95 M115.00 287.65 V289.95" stroke="#8e2e36" stroke-width="0.85" fill="none" />
<path d="M120.00 297.65 V299.95 M125.00 297.65 V299.95 M130.00 297.65 V299.95 M135.00 297.65 V299.95 M140.00 297.65 V299.95 M145.00 297.65 V299.95" stroke="#8e2e36" stroke-width="0.85" fill="none" />
<path d="M105.00 322.85 V325.15 M108.00 322.85 V325.15 M111.00 322.85 V325.15" stroke="#c8374f" stroke-width="0.85" fill="none" />
<text x="144.30" y="257.25" font-size="5.0" fill="#7cc3d6" stroke="#7cc3d6" stroke-width="0.3" text-anchor="start" font-weight="normal" >IPI 1</text>
<text x="141.50" y="293.45" font-size="5.0" fill="#34468f" stroke="#34468f" stroke-width="0.3" text-anchor="start" font-weight="normal" >IPI 2</text>
<text x="123.40" y="277.35" font-size="5.0" fill="#6cb84a" stroke="#6cb84a" stroke-width="0.3" text-anchor="start" font-weight="normal" >IPI 3</text>
<text x="132.00" y="305.95" font-size="5.0" fill="#8e2e36" stroke="#8e2e36" stroke-width="0.3" text-anchor="start" font-weight="normal" >IPI 4</text>
<text x="114.40" y="325.75" font-size="5.0" fill="#c8374f" stroke="#c8374f" stroke-width="0.3" text-anchor="start" font-weight="normal" >IPI 5</text>
<text x="143.50" y="238.55" font-size="5.0" fill="#1c1c1c" stroke="#1c1c1c" stroke-width="0.3" text-anchor="start" font-weight="normal" >IPI 0</text>
<text x="199.00" y="216.10" font-size="6.4" fill="#111" stroke="#111" stroke-width="0.3" text-anchor="start" font-weight="bold" >D</text>
<path d="M230.6 223.0 V348.4 H355.7" stroke="#6a6a6a" stroke-width="1.15" fill="none" />
<path d="M229.29999999999998 342.90 H230.6" stroke="#6a6a6a" stroke-width="0.6" fill="none" />
<text x="229.00" y="344.44" font-size="4.4" fill="#333" stroke="#333" stroke-width="0.3" text-anchor="end" font-weight="normal" >0.00</text>
<path d="M229.29999999999998 314.47 H230.6" stroke="#6a6a6a" stroke-width="0.6" fill="none" />
<text x="229.00" y="316.01" font-size="4.4" fill="#333" stroke="#333" stroke-width="0.3" text-anchor="end" font-weight="normal" >0.25</text>
<path d="M229.29999999999998 286.05 H230.6" stroke="#6a6a6a" stroke-width="0.6" fill="none" />
<text x="229.00" y="287.59" font-size="4.4" fill="#333" stroke="#333" stroke-width="0.3" text-anchor="end" font-weight="normal" >0.50</text>
<path d="M229.29999999999998 257.62 H230.6" stroke="#6a6a6a" stroke-width="0.6" fill="none" />
<text x="229.00" y="259.17" font-size="4.4" fill="#333" stroke="#333" stroke-width="0.3" text-anchor="end" font-weight="normal" >0.75</text>
<path d="M229.29999999999998 229.20 H230.6" stroke="#6a6a6a" stroke-width="0.6" fill="none" />
<text x="229.00" y="230.74" font-size="4.4" fill="#333" stroke="#333" stroke-width="0.3" text-anchor="end" font-weight="normal" >1.00</text>
<path d="M236.40 348.4 V349.7" stroke="#6a6a6a" stroke-width="0.6" fill="none" />
<text x="236.40" y="354.04" font-size="4.4" fill="#333" stroke="#333" stroke-width="0.3" text-anchor="middle" font-weight="normal" >0</text>
<path d="M264.85 348.4 V349.7" stroke="#6a6a6a" stroke-width="0.6" fill="none" />
<text x="264.85" y="354.04" font-size="4.4" fill="#333" stroke="#333" stroke-width="0.3" text-anchor="middle" font-weight="normal" >10</text>
<path d="M293.30 348.4 V349.7" stroke="#6a6a6a" stroke-width="0.6" fill="none" />
<text x="293.30" y="354.04" font-size="4.4" fill="#333" stroke="#333" stroke-width="0.3" text-anchor="middle" font-weight="normal" >20</text>
<path d="M321.75 348.4 V349.7" stroke="#6a6a6a" stroke-width="0.6" fill="none" />
<text x="321.75" y="354.04" font-size="4.4" fill="#333" stroke="#333" stroke-width="0.3" text-anchor="middle" font-weight="normal" >30</text>
<path d="M350.20 348.4 V349.7" stroke="#6a6a6a" stroke-width="0.6" fill="none" />
<text x="350.20" y="354.04" font-size="4.4" fill="#333" stroke="#333" stroke-width="0.3" text-anchor="middle" font-weight="normal" >40</text>
<text x="293.60" y="360.61" font-size="4.6" fill="#333" stroke="#333" stroke-width="0.3" text-anchor="middle" font-weight="normal" >Time (month)</text>
<text x="216.70" y="286.05" font-size="4.7" fill="#333" stroke="#333" stroke-width="0.3" text-anchor="middle" font-weight="normal" transform="rotate(-90 216.7 286.04999999999995)" dy="1.5">EFS</text>
<text x="232.30" y="369.52" font-size="5.2" fill="#222" stroke="#222" stroke-width="0.3" text-anchor="start" font-weight="normal" >Number at risk</text>
<text x="230.40" y="376.61" font-size="4.3" fill="#1c1c1c" stroke="#1c1c1c" stroke-width="0.3" text-anchor="end" font-weight="normal" >IPI 0</text>
<text x="236.40" y="376.40" font-size="3.6" fill="#333" stroke="#333" stroke-width="0.3" text-anchor="middle" font-weight="normal" >36</text>
<text x="264.85" y="376.40" font-size="3.6" fill="#333" stroke="#333" stroke-width="0.3" text-anchor="middle" font-weight="normal" >32</text>
<text x="293.30" y="376.40" font-size="3.6" fill="#333" stroke="#333" stroke-width="0.3" text-anchor="middle" font-weight="normal" >31</text>
<text x="321.75" y="376.40" font-size="3.6" fill="#333" stroke="#333" stroke-width="0.3" text-anchor="middle" font-weight="normal" >10</text>
<text x="350.20" y="376.40" font-size="3.6" fill="#333" stroke="#333" stroke-width="0.3" text-anchor="middle" font-weight="normal" >0</text>
<text x="230.40" y="381.00" font-size="4.3" fill="#7cc3d6" stroke="#7cc3d6" stroke-width="0.3" text-anchor="end" font-weight="normal" >IPI 1</text>
<text x="236.40" y="380.80" font-size="3.6" fill="#333" stroke="#333" stroke-width="0.3" text-anchor="middle" font-weight="normal" >53</text>
<text x="264.85" y="380.80" font-size="3.6" fill="#333" stroke="#333" stroke-width="0.3" text-anchor="middle" font-weight="normal" >38</text>
<text x="293.30" y="380.80" font-size="3.6" fill="#333" stroke="#333" stroke-width="0.3" text-anchor="middle" font-weight="normal" >36</text>
<text x="321.75" y="380.80" font-size="3.6" fill="#333" stroke="#333" stroke-width="0.3" text-anchor="middle" font-weight="normal" >12</text>
<text x="350.20" y="380.80" font-size="3.6" fill="#333" stroke="#333" stroke-width="0.3" text-anchor="middle" font-weight="normal" >0</text>
<text x="230.40" y="385.40" font-size="4.3" fill="#34468f" stroke="#34468f" stroke-width="0.3" text-anchor="end" font-weight="normal" >IPI 2</text>
<text x="236.40" y="385.20" font-size="3.6" fill="#333" stroke="#333" stroke-width="0.3" text-anchor="middle" font-weight="normal" >38</text>
<text x="264.85" y="385.20" font-size="3.6" fill="#333" stroke="#333" stroke-width="0.3" text-anchor="middle" font-weight="normal" >33</text>
<text x="293.30" y="385.20" font-size="3.6" fill="#333" stroke="#333" stroke-width="0.3" text-anchor="middle" font-weight="normal" >31</text>
<text x="321.75" y="385.20" font-size="3.6" fill="#333" stroke="#333" stroke-width="0.3" text-anchor="middle" font-weight="normal" >9</text>
<text x="350.20" y="385.20" font-size="3.6" fill="#333" stroke="#333" stroke-width="0.3" text-anchor="middle" font-weight="normal" >0</text>
<text x="230.40" y="389.70" font-size="4.3" fill="#6cb84a" stroke="#6cb84a" stroke-width="0.3" text-anchor="end" font-weight="normal" >IPI 3</text>
<text x="236.40" y="389.50" font-size="3.6" fill="#333" stroke="#333" stroke-width="0.3" text-anchor="middle" font-weight="normal" >37</text>
<text x="264.85" y="389.50" font-size="3.6" fill="#333" stroke="#333" stroke-width="0.3" text-anchor="middle" font-weight="normal" >30</text>
<text x="293.30" y="389.50" font-size="3.6" fill="#333" stroke="#333" stroke-width="0.3" text-anchor="middle" font-weight="normal" >28</text>
<text x="321.75" y="389.50" font-size="3.6" fill="#333" stroke="#333" stroke-width="0.3" text-anchor="middle" font-weight="normal" >8</text>
<text x="350.20" y="389.50" font-size="3.6" fill="#333" stroke="#333" stroke-width="0.3" text-anchor="middle" font-weight="normal" >0</text>
<text x="230.40" y="394.11" font-size="4.3" fill="#8e2e36" stroke="#8e2e36" stroke-width="0.3" text-anchor="end" font-weight="normal" >IPI 4</text>
<text x="236.40" y="393.90" font-size="3.6" fill="#333" stroke="#333" stroke-width="0.3" text-anchor="middle" font-weight="normal" >26</text>
<text x="264.85" y="393.90" font-size="3.6" fill="#333" stroke="#333" stroke-width="0.3" text-anchor="middle" font-weight="normal" >19</text>
<text x="293.30" y="393.90" font-size="3.6" fill="#333" stroke="#333" stroke-width="0.3" text-anchor="middle" font-weight="normal" >14</text>
<text x="321.75" y="393.90" font-size="3.6" fill="#333" stroke="#333" stroke-width="0.3" text-anchor="middle" font-weight="normal" >3</text>
<text x="350.20" y="393.90" font-size="3.6" fill="#333" stroke="#333" stroke-width="0.3" text-anchor="middle" font-weight="normal" >0</text>
<text x="230.40" y="398.50" font-size="4.3" fill="#c8374f" stroke="#c8374f" stroke-width="0.3" text-anchor="end" font-weight="normal" >IPI 5</text>
<text x="236.40" y="398.30" font-size="3.6" fill="#333" stroke="#333" stroke-width="0.3" text-anchor="middle" font-weight="normal" >12</text>
<text x="264.85" y="398.30" font-size="3.6" fill="#333" stroke="#333" stroke-width="0.3" text-anchor="middle" font-weight="normal" >6</text>
<text x="293.30" y="398.30" font-size="3.6" fill="#333" stroke="#333" stroke-width="0.3" text-anchor="middle" font-weight="normal" >4</text>
<text x="321.75" y="398.30" font-size="3.6" fill="#333" stroke="#333" stroke-width="0.3" text-anchor="middle" font-weight="normal" >3</text>
<text x="350.20" y="398.30" font-size="3.6" fill="#333" stroke="#333" stroke-width="0.3" text-anchor="middle" font-weight="normal" >0</text>
<path d="M236.4 228.6 H238.8 V231.5 H236.4 V228.6 M238.8 228.6 V247 H242.2 V266 H248.2 V276.4 H250.1 V284.9 H262.4 V295.3 H276.1 V304.7 H293.3 V314.2 H325.3" stroke="#c8374f" stroke-width="1.15" fill="none" stroke-linejoin="miter" stroke-linecap="butt"/>
<path d="M236.4 228.6 H246.1 V233.7 H247.5 V245.8 H250.3 V253.8 H253.9 V258.5 H255.8 V267.9 H261.4 V271.7 H264.2 V277.4 H299.2 V282.3 H304.5 V287 H313 V293.6 H331" stroke="#8e2e36" stroke-width="1.15" fill="none" stroke-linejoin="miter" stroke-linecap="butt"/>
<path d="M236.4 228.6 H240 V234.1 H244.5 V236.9 H250.2 V238.1 H253.4 V240.2 H256.2 V245 H257.4 V246.3 H262.7 V250.5 H270.8 V253 H279.3 V256.3 H295.6 V259.5 H336.6" stroke="#6cb84a" stroke-width="1.15" fill="none" stroke-linejoin="miter" stroke-linecap="butt"/>
<path d="M236.4 228.6 H241 V232.5 H247 V236 H253.5 V239.5 H256.4 V245.5 H262.3 V248.5 H270.6 V252.8 H307.4 V256.4 H336.6" stroke="#7cc3d6" stroke-width="1.15" fill="none" stroke-linejoin="miter" stroke-linecap="butt"/>
<path d="M236.4 228.6 H245.3 V232 H249 V235 H253.8 V238 H256.2 V243.5 H264.3 V246.6 H288 V249.1 H293.4 V252.6 H316.2 V258.4 H336.6" stroke="#34468f" stroke-width="1.15" fill="none" stroke-linejoin="miter" stroke-linecap="butt"/>
<path d="M236.4 228.6 H246.9 V231.3 H253.4 V234.1 H256.2 V241.1 H270.3 V244.5 H336.6" stroke="#1c1c1c" stroke-width="1.15" fill="none" stroke-linejoin="miter" stroke-linecap="butt"/>
<path d="M286.00 243.35 V245.65 M289.37 243.35 V245.65 M292.75 243.35 V245.65 M296.12 243.35 V245.65 M299.49 243.35 V245.65 M302.87 243.35 V245.65 M306.24 243.35 V245.65 M309.61 243.35 V245.65 M312.99 243.35 V245.65 M316.36 243.35 V245.65 M319.73 243.35 V245.65 M323.11 243.35 V245.65 M326.48 243.35 V245.65 M329.85 243.35 V245.65 M333.23 243.35 V245.65 M336.60 243.35 V245.65" stroke="#1c1c1c" stroke-width="0.85" fill="none" />
<path d="M296.00 251.45 V253.75 M301.33 251.45 V253.75 M306.67 251.45 V253.75 M312.00 251.45 V253.75" stroke="#34468f" stroke-width="0.85" fill="none" />
<path d="M318.00 257.25 V259.55 M322.50 257.25 V259.55 M327.00 257.25 V259.55 M331.50 257.25 V259.55 M336.00 257.25 V259.55" stroke="#34468f" stroke-width="0.85" fill="none" />
<path d="M310.00 255.35 V257.65 M314.33 255.35 V257.65 M318.67 255.35 V257.65 M323.00 255.35 V257.65 M327.33 255.35 V257.65 M331.67 255.35 V257.65 M336.00 255.35 V257.65" stroke="#7cc3d6" stroke-width="0.85" fill="none" />
<path d="M300.00 258.35 V260.65 M304.50 258.35 V260.65 M309.00 258.35 V260.65 M313.50 258.35 V260.65 M318.00 258.35 V260.65 M322.50 258.35 V260.65 M327.00 258.35 V260.65 M331.50 258.35 V260.65 M336.00 258.35 V260.65" stroke="#6cb84a" stroke-width="0.85" fill="none" />
<path d="M306.00 285.85 V288.15 M309.00 285.85 V288.15" stroke="#8e2e36" stroke-width="0.85" fill="none" />
<path d="M316.00 292.45 V294.75 M320.67 292.45 V294.75 M325.33 292.45 V294.75 M330.00 292.45 V294.75" stroke="#8e2e36" stroke-width="0.85" fill="none" />
<path d="M315.00 313.05 V315.35 M320.00 313.05 V315.35 M324.00 313.05 V315.35" stroke="#c8374f" stroke-width="0.85" fill="none" />
<text x="324.70" y="240.75" font-size="5.0" fill="#1c1c1c" stroke="#1c1c1c" stroke-width="0.3" text-anchor="start" font-weight="normal" >IPI 0</text>
<text x="326.00" y="253.25" font-size="5.0" fill="#7cc3d6" stroke="#7cc3d6" stroke-width="0.3" text-anchor="start" font-weight="normal" >IPI 1</text>
<text x="339.90" y="260.55" font-size="5.0" fill="#34468f" stroke="#34468f" stroke-width="0.3" text-anchor="start" font-weight="normal" >IPI 2</text>
<text x="324.20" y="266.25" font-size="5.0" fill="#6cb84a" stroke="#6cb84a" stroke-width="0.3" text-anchor="start" font-weight="normal" >IPI 3</text>
<text x="324.30" y="290.95" font-size="5.0" fill="#8e2e36" stroke="#8e2e36" stroke-width="0.3" text-anchor="start" font-weight="normal" >IPI 4</text>
</svg>
</body></html>
